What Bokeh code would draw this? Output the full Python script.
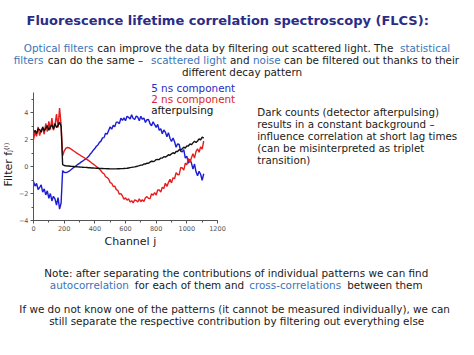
from bokeh.plotting import figure
from bokeh.models import Range1d, SingleIntervalTicker, Title
from bokeh.layouts import column, row
from bokeh.core.properties import value
from bokeh.embed import file_html
from bokeh.resources import INLINE

# ---------------- data ----------------
channel = [
    0, 10, 20, 30, 40, 50, 60, 70, 80, 90, 100, 110, 120, 130, 140, 150, 160, 170, 180,
    190, 200, 210, 220, 230, 240, 250, 260, 270, 280, 290, 300, 310, 320, 330, 340, 350,
    360, 370, 380, 390, 400, 410, 420, 430, 440, 450, 460, 470, 480, 490, 500, 510, 520,
    530, 540, 550, 560, 570, 580, 590, 600, 610, 620, 630, 640, 650, 660, 670, 680, 690,
    700, 710, 720, 730, 740, 750, 760, 770, 780, 790, 800, 810, 820, 830, 840, 850, 860,
    870, 880, 890, 900, 910, 920, 930, 940, 950, 960, 970, 980, 990, 1000, 1010, 1020,
    1030, 1040, 1050, 1060, 1070, 1080, 1090, 1100, 1110,
]

filter_5ns = [
    -1.10, -1.45, -1.25, -1.70, -1.55, -1.35, -1.90, -1.65, -2.10, -1.80, -2.35, -2.00,
    -2.55, -2.20, -2.40, -2.85, -2.30, -3.15, -2.70,
    -0.30, -0.42, -0.45, -0.42, -0.35, -0.27, -0.18, -0.09, 0.00, 0.08, 0.17, 0.24,
    0.33, 0.40, 0.49, 0.56, 0.66, 0.77, 0.93, 1.05, 1.22, 1.34, 1.51, 1.61, 1.80, 1.89,
    2.13, 2.15, 2.47, 2.40, 2.68, 2.95, 2.78, 3.06, 2.96, 3.30, 3.30, 3.19, 3.60, 3.43,
    3.62, 3.40, 3.73, 3.66, 3.53, 3.85, 3.57, 3.50, 3.76, 3.67, 3.41, 3.73, 3.51, 3.60,
    3.28, 3.48, 3.50, 3.18, 3.03, 3.33, 3.11, 2.91, 3.13, 2.70, 2.81, 2.44, 2.72, 2.56,
    2.21, 2.52, 2.11, 1.86, 2.13, 1.84, 1.44, 1.69, 1.64, 1.13, 1.10, 1.26, 0.63, 0.78,
    0.25, 0.55, 0.26, -0.19, 0.19, -0.39, -0.68, -0.35, -0.57, -1.02, -0.53,
]

filter_2ns = [
    2.00, 2.55, 2.25, 2.95, 2.30, 2.70, 2.85, 2.40, 3.20, 2.60, 3.35, 2.75, 3.60, 2.70,
    3.05, 3.90, 2.90, 4.35, 3.10,
    0.80, 1.15, 1.35, 1.42, 1.40, 1.34, 1.26, 1.18, 1.10, 1.02, 0.95, 0.88, 0.80, 0.73,
    0.66, 0.60, 0.52, 0.44, 0.36, 0.27, 0.18, 0.10, 0.01, -0.08, -0.19, -0.31,
    -0.46, -0.53, -0.75, -0.81, -0.92, -1.19, -1.24, -1.48, -1.45, -1.71, -1.77, -2.05,
    -2.00, -2.18, -2.42, -2.32, -2.49, -2.39, -2.63, -2.53, -2.70, -2.47, -2.52, -2.63,
    -2.39, -2.61, -2.45, -2.59, -2.31, -2.23, -2.36, -2.38, -2.01, -2.13, -1.92, -2.12,
    -1.74, -1.74, -1.88, -1.53, -1.62, -1.23, -1.47, -1.18, -0.95, -1.21, -0.83, -0.90,
    -0.45, -0.59, -0.60, -0.07, -0.10, -0.26, 0.25, 0.13, 0.60, 0.30, 0.65, 0.95, 0.63,
    1.13, 1.32, 1.06, 1.47, 1.30, 1.90,
]

filter_afterpulsing = [
    2.50, 2.70, 2.45, 2.80, 2.75, 2.55, 2.95, 2.65, 2.85, 3.05, 2.70, 2.95, 3.10, 2.80,
    3.20, 2.90, 3.05, 3.30, 3.00,
    0.15, 0.08, 0.06, 0.05, 0.04, 0.03, 0.02, 0.01, 0.00, -0.01, -0.02, -0.03, -0.04,
    -0.05, -0.06, -0.06, -0.07, -0.08, -0.09, -0.10, -0.10, -0.11, -0.12, -0.12, -0.13,
    -0.14, -0.14, -0.15, -0.15, -0.16, -0.16, -0.17, -0.17, -0.17, -0.17, -0.17, -0.16,
    -0.16, -0.15, -0.15, -0.14, -0.13, -0.12, -0.10, -0.08, -0.06, -0.04, -0.02, 0.01,
    0.04, 0.07, 0.11, 0.11, 0.19, 0.19, 0.26, 0.25, 0.33, 0.40, 0.38, 0.41, 0.52, 0.53,
    0.52, 0.63, 0.63, 0.74, 0.71, 0.77, 0.88, 0.84, 0.95, 1.03, 0.97, 1.12, 1.12, 1.26,
    1.21, 1.33, 1.44, 1.37, 1.54, 1.53, 1.69, 1.62, 1.76, 1.88, 1.79, 1.90, 2.06, 1.98,
    2.19, 2.11,
]

series_names = ["5 ns component", "2 ns component", "afterpulsing"]
series_colors = ["#1c1cd6", "#e81c1c", "#111111"]
legend_colors = ["#2a2ac4", "#e02424", "#111111"]

title_text = "Fluorescence lifetime correlation spectroscopy (FLCS):"
top_line1 = ["Optical filters", "can improve the data by filtering out scattered light. The",
             "statistical"]
top_line2 = ["filters", "can do the same \u2013", "scattered light", "and", "noise",
             "can be filtered out thanks to their"]
top_line3 = "different decay pattern"
right_lines = ["Dark counts (detector afterpulsing)",
               "results in a constant background \u2013",
               "influence correlation at short lag times",
               "(can be misinterpreted as triplet",
               "transition)"]
bottom_lineA = "Note: after separating the contributions of individual patterns we can find"
bottom_lineB = ["autocorrelation", "for each of them and", "cross-correlations", "between them"]
bottom_lineC = "If  we do not know one of the patterns (it cannot be measured individually), we can"
bottom_lineD = "still separate the respective contribution by filtering out everything else"
x_label = "Channel j"
y_label = "Filter f\u2c7c\u207d\u2071\u207e"

BLUE_TXT = "#3a74b8"
BLACK_TXT = "#1a1a1a"
TITLE_COL = "#2b2c86"
FONT = value("DejaVu Sans")
BODY = "10.4px"
W = 472

assert len(channel) == len(filter_5ns) == len(filter_2ns) == len(filter_afterpulsing)


def text_fig(w, h):
    f = figure(width=w, height=h, x_range=Range1d(0, w), y_range=Range1d(h, 0),
               x_axis_type=None, y_axis_type=None, toolbar_location=None,
               output_backend="svg", min_border=0)
    f.grid.visible = False
    f.outline_line_color = None
    return f


def seg(f, xs, y, texts, colors, size=BODY, align="left", weight="normal"):
    f.text(x=xs, y=[y] * len(texts), text=texts, text_color=colors,
           text_font=FONT, text_font_size=size, text_align=align,
           text_baseline="middle", text_font_style=weight)


# ---------------- top block (page y 0..80) ----------------
top = text_fig(W, 80)
seg(top, [26], 20, [title_text], [TITLE_COL], size="13px", weight="bold")
seg(top, [23.3, 96.7, 399.5], 47.5, top_line1, [BLUE_TXT, BLACK_TXT, BLUE_TXT])
seg(top, [13.3, 47.3, 150.5, 229.5, 252.5, 283.5], 59.8, top_line2,
    [BLUE_TXT, BLACK_TXT, BLUE_TXT, BLACK_TXT, BLUE_TXT, BLACK_TXT])
seg(top, [241.5], 71.8, [top_line3], [BLACK_TXT], align="center")

# ---------------- chart row (page y 80..255) ----------------
# frame: page x 33..472, page y 80..220; axes cover channel 0..1200 and f -4..5.5
FL, FR, FB = 33, W, 220
X_PX = 184 / 1200          # px per channel
Y_PX = 128 / 9.5           # px per unit of f


def xd(px):
    return (px - FL) / X_PX


def yd(py):
    return -4 + (FB - py) / Y_PX


chart = figure(width=W, height=175,
               x_range=Range1d(0, (FR - FL) / X_PX), y_range=Range1d(-4, -4 + 140 / Y_PX),
               toolbar_location=None, output_backend="svg", min_border=0,
               min_border_left=FL, min_border_right=0, min_border_top=0,
               min_border_bottom=35)
chart.grid.visible = False
chart.outline_line_color = None
for ys, col in zip([filter_5ns, filter_2ns, filter_afterpulsing], series_colors):
    chart.line(channel, ys, line_color=col, line_width=1.4)

chart.xaxis.ticker = SingleIntervalTicker(interval=200, num_minor_ticks=2)
chart.yaxis.ticker = SingleIntervalTicker(interval=2, num_minor_ticks=2)
chart.xaxis.bounds = (0, 1200)
chart.yaxis.bounds = (-4, 5.5)
for ax in (chart.xaxis[0], chart.yaxis[0]):
    ax.axis_line_color = "#555555"
    ax.major_tick_line_color = "#555555"
    ax.minor_tick_line_color = "#555555"
    ax.major_tick_out = 3
    ax.major_tick_in = 0
    ax.minor_tick_out = 2
    ax.minor_tick_in = 0
    ax.major_label_text_font = "DejaVu Sans"
    ax.major_label_text_font_size = "6.5px"
    ax.major_label_text_color = "#555555"
    ax.major_label_standoff = 2

# axis titles placed beside the axes, aligned to the axis extent
chart.add_layout(Title(text=x_label, align="left", offset=104 - FL, standoff=0,
                       vertical_align="middle", text_font="DejaVu Sans",
                       text_font_size="11px", text_font_style="normal",
                       text_color=BLACK_TXT), "below")
chart.add_layout(Title(text=y_label, align="left", offset=FB - 186, standoff=0,
                       vertical_align="middle", text_font="DejaVu Sans",
                       text_font_size="11px", text_font_style="normal",
                       text_color=BLACK_TXT), "left")

# legend texts (page x 150.7; page y 87.3 / 98.5 / 109.8)
chart.text(x=[xd(150.7)] * 3, y=[yd(87.3), yd(98.5), yd(109.8)], text=series_names,
           text_color=legend_colors, text_font=FONT, text_font_size=BODY,
           text_align="left", text_baseline="middle")

# right-hand note (page x 256.7; page y 111.7 .. 160)
chart.text(x=[xd(256.7)] * len(right_lines),
           y=[yd(111.7), yd(123.7), yd(135.7), yd(147.7), yd(159.7)],
           text=right_lines, text_color=BLACK_TXT, text_font=FONT,
           text_font_size="10.3px", text_align="left", text_baseline="middle")

# ---------------- bottom block (page y 255..353) ----------------
bottom = text_fig(W, 98)
seg(bottom, [235.8], 17.7, [bottom_lineA], [BLACK_TXT], align="center")
seg(bottom, [49.3, 134.3, 248.7, 346.7], 29.3, bottom_lineB,
    [BLUE_TXT, BLACK_TXT, BLUE_TXT, BLACK_TXT])
seg(bottom, [235.8], 53.3, [bottom_lineC], [BLACK_TXT], align="center")
seg(bottom, [236.2], 65.7, [bottom_lineD], [BLACK_TXT], align="center")

page = column(top, row(chart), bottom)
open("out.html", "w").write(file_html(page, INLINE))
